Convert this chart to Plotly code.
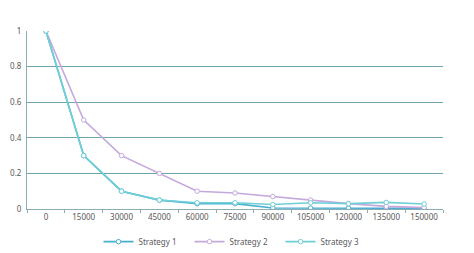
import plotly.graph_objects as go

categories = ["0", "15000", "30000", "45000", "60000", "75000", "90000",
              "105000", "120000", "135000", "150000"]
strategy1 = [1, 0.3, 0.1, 0.05, 0.03, 0.03, 0.006, 0.005, 0.005, 0.005, 0.004]
strategy2 = [1, 0.5, 0.3, 0.2, 0.1, 0.09, 0.07, 0.05, 0.03, 0.015, 0.008]
strategy3 = [1, 0.3, 0.1, 0.05, 0.035, 0.035, 0.025, 0.035, 0.03, 0.037, 0.028]

names = ["Strategy 1", "Strategy 2", "Strategy 3"]
colors = ["#4aaed0", "#c3a9dc", "#6fcfd6"]
series = [strategy1, strategy2, strategy3]

fig = go.Figure()
for name, vals, col in zip(names, series, colors):
    fig.add_trace(go.Scatter(
        x=categories, y=vals, name=name, mode="lines+markers",
        line=dict(color=col, width=1.6),
        marker=dict(symbol="circle", size=4.5, color="white",
                    line=dict(color=col, width=1)),
    ))

fig.update_layout(
    width=474, height=253,
    margin=dict(l=27, r=31, t=31, b=44, autoexpand=False),
    paper_bgcolor="white", plot_bgcolor="white",
    font=dict(family="Noto Sans", size=8, color="#595959"),
    showlegend=True,
    legend=dict(orientation="h", x=0.5, xanchor="center",
                yref="container", y=0.045, yanchor="middle",
                font=dict(size=8, color="#595959"), itemwidth=30,
                entrywidth=46),
    xaxis=dict(type="category", range=[-0.5, 10.5], showgrid=False,
               showline=True, linecolor="#8aaeb4", linewidth=1,
               ticks="outside", tickson="boundaries", ticklen=3,
               tickcolor="#8aaeb4", tickangle=0, automargin=False,
               tickfont=dict(size=8, color="#595959")),
    yaxis=dict(range=[0, 1], tickvals=[0, 0.2, 0.4, 0.6, 0.8, 1],
               ticktext=["0", "0.2", "0.4", "0.6", "0.8", "1"],
               showgrid=True, gridcolor="#6fa6ae", gridwidth=1,
               showline=True, linecolor="#8aaeb4", linewidth=1,
               zeroline=False, ticks="", ticklabelstandoff=3,
               automargin=False,
               tickfont=dict(size=8, color="#595959")),
)

fig.write_html("out.html")
